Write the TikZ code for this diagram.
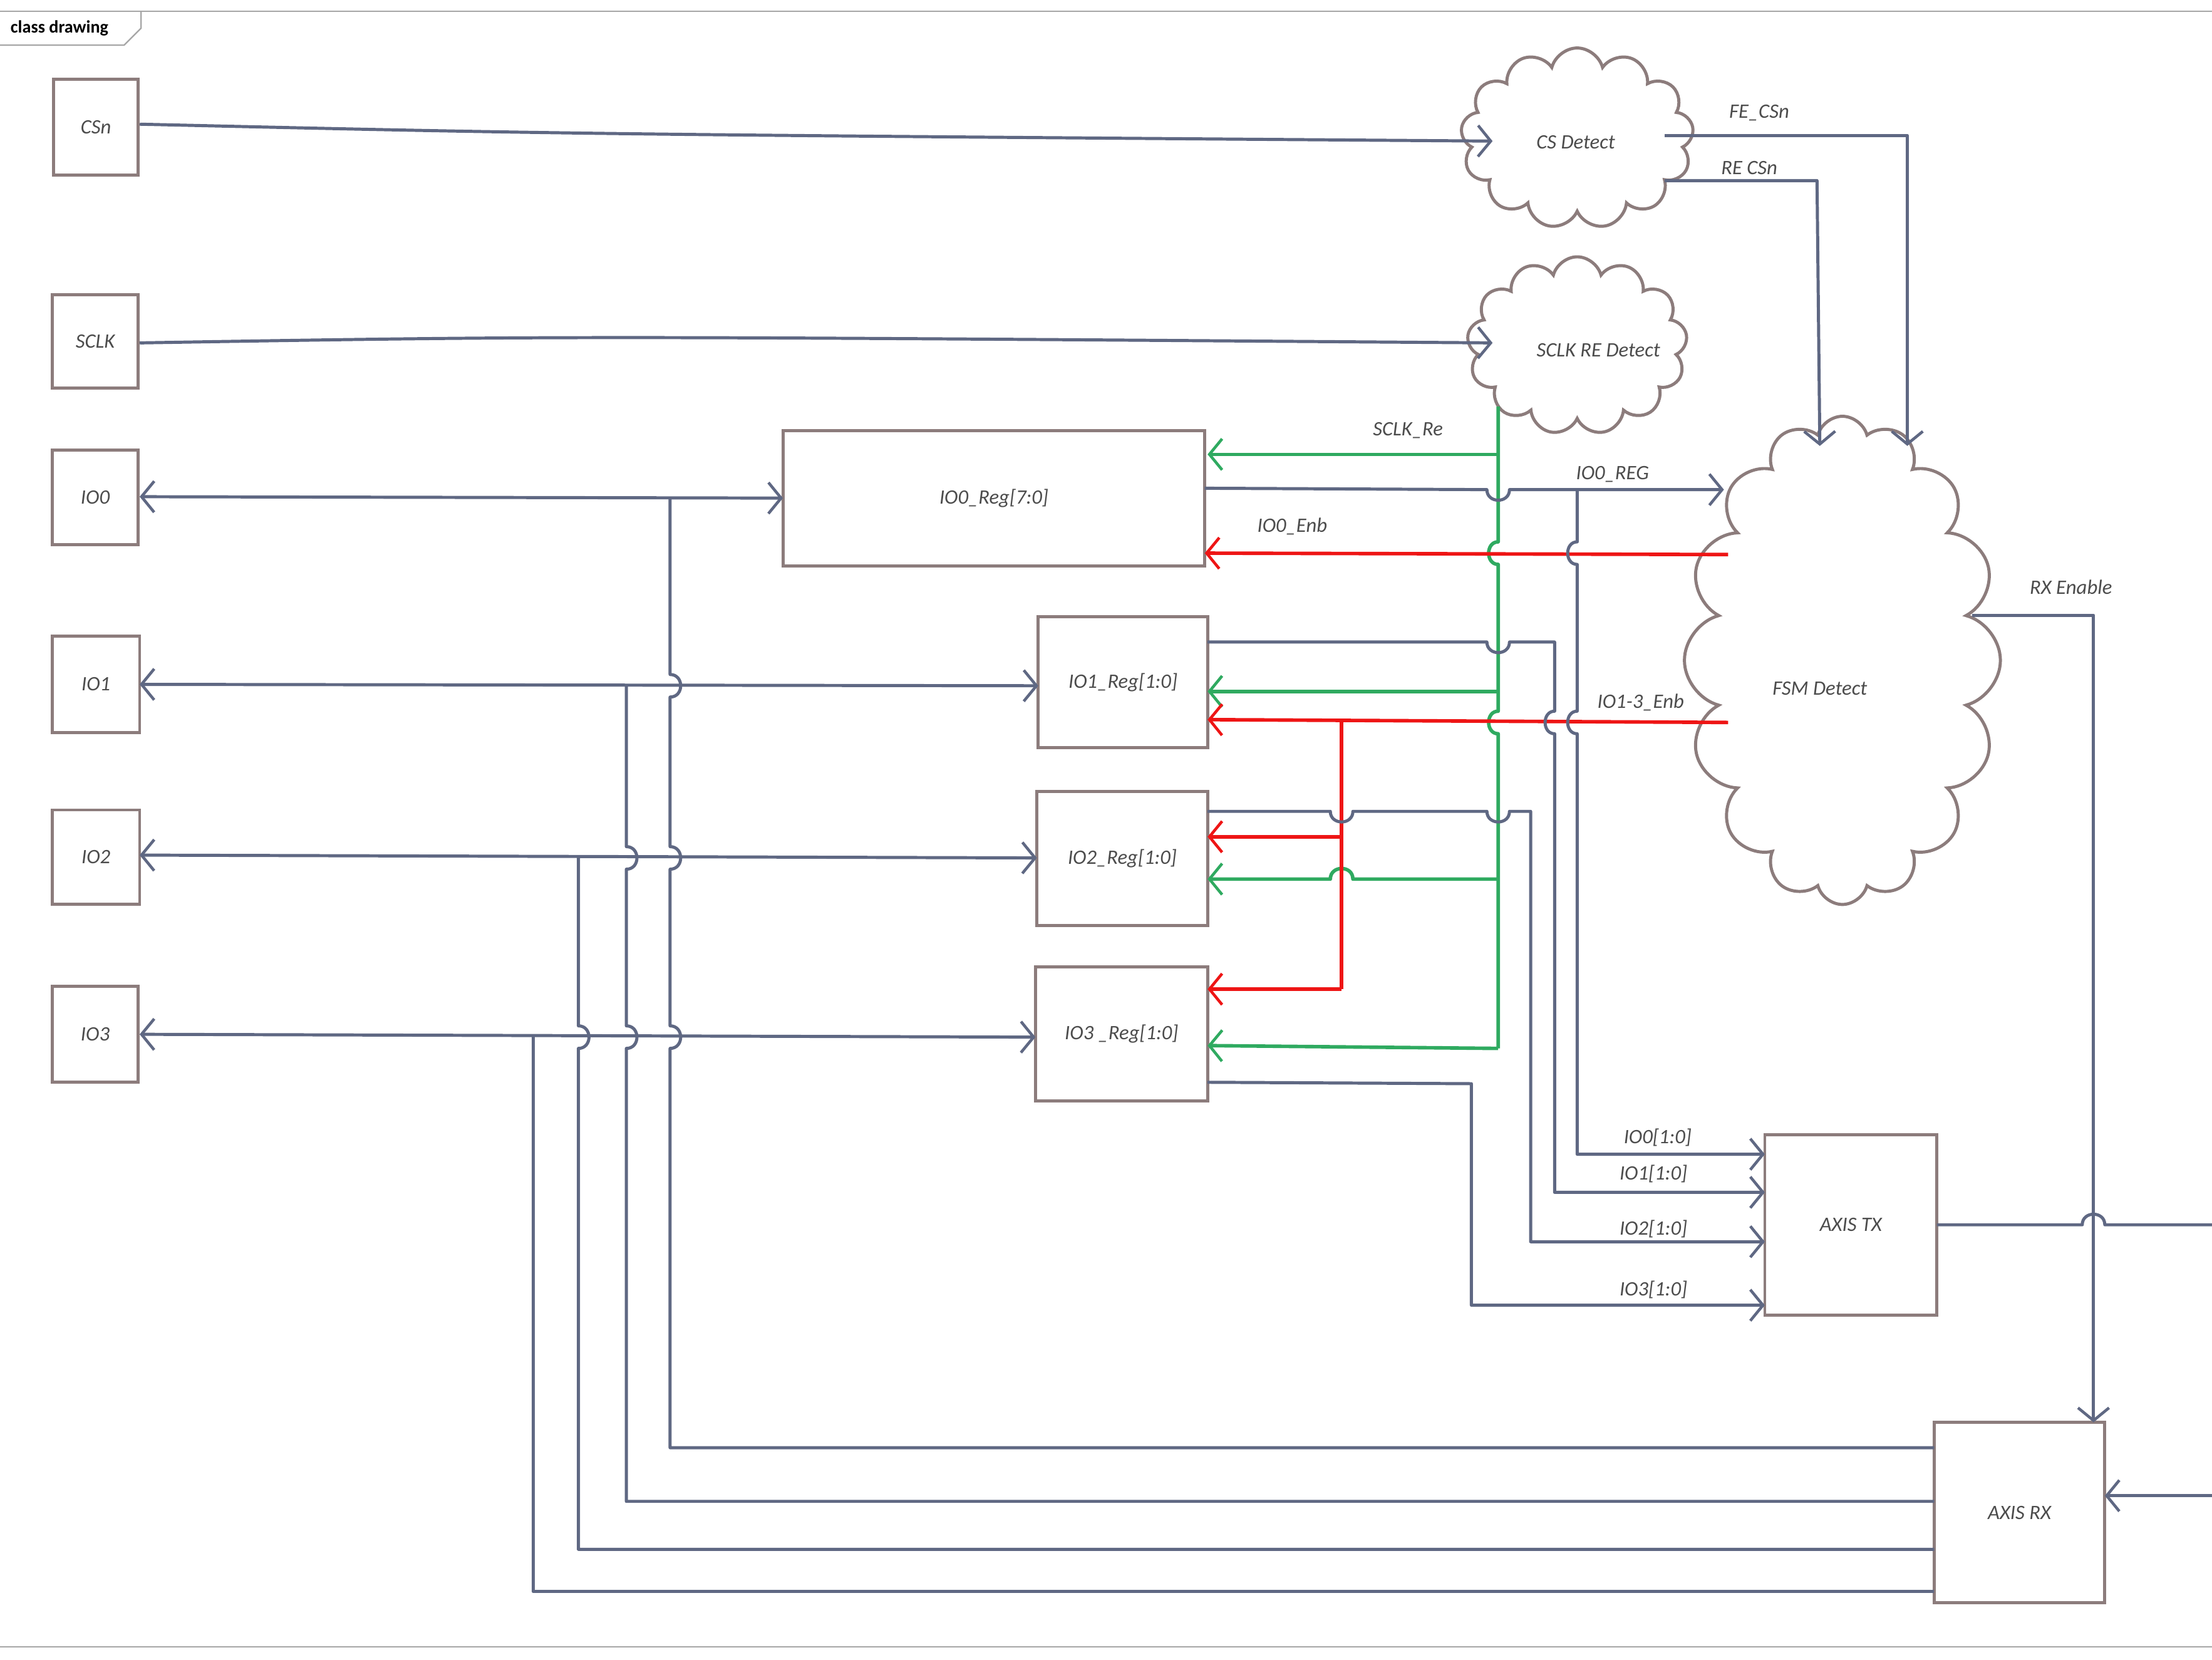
\documentclass[tikz,border=0pt]{standalone}
\usepackage{fontspec}
\setmainfont{Carlito}
\usetikzlibrary{shapes.symbols,arrows.meta}
\definecolor{ln}{HTML}{5F6883}
\definecolor{bx}{HTML}{8C7C7C}
\definecolor{gr}{HTML}{2FAA60}
\definecolor{rd}{HTML}{EE1515}
\newcommand\hh[3]{-- (#1-8,#2) .. controls (#1-8,#2+#3) and (#1+8,#2+#3) .. (#1+8,#2)}
\newcommand\hl[3]{-- (#1+8,#2) .. controls (#1+8,#2+#3) and (#1-8,#2+#3) .. (#1-8,#2)}
\newcommand\vd[3]{-- (#1,#2-8) .. controls (#1+#3,#2-8) and (#1+#3,#2+8) .. (#1,#2+8)}
\newcommand\vu[3]{-- (#1,#2+8) .. controls (#1+#3,#2+8) and (#1+#3,#2-8) .. (#1,#2-8)}
\begin{document}
\begin{tikzpicture}[x=1pt,y=-1pt,
  box/.style={draw=bx,line width=2.2pt,inner sep=0},
  cl/.style={draw=bx,line width=2.2pt,cloud,cloud puffs=13,cloud ignores aspect,inner sep=0},
  w/.style={draw=ln,line width=2.2pt,line join=round},
  g/.style={draw=gr,line width=2.5pt,line join=round},
  r/.style={draw=rd,line width=2.5pt,line join=round},
  ar/.style={-{Straight Barb[length=9pt,width=22pt,line width=2pt]}},
  ba/.style={{Straight Barb[length=9pt,width=22pt,line width=2pt]}-{Straight Barb[length=9pt,width=22pt,line width=2pt]}},
  t/.style={font=\fontsize{14.5}{17}\selectfont\itshape,text=black!70}]
\useasboundingbox (0,0) rectangle (1568,1176);
\draw[gray!70,line width=1pt] (0,8) -- (1568,8) (0,1167) -- (1568,1167);
\draw[gray!70,line width=1pt] (0,32) -- (88,32) -- (100,20) -- (100,8);
\node[font=\fontsize{12.5}{14}\selectfont\bfseries,anchor=west] (title) at (4,20) {class drawing};
% boxes
\node[box,minimum width=60,minimum height=68,t] (CSn) at (68,90) {CSn};
\node[box,minimum width=61,minimum height=66,t] (SCLK) at (67.5,242) {SCLK};
\node[box,minimum width=61,minimum height=67,t] (IO0) at (67.5,352.5) {IO0};
\node[box,minimum width=62,minimum height=68,t] (IO1) at (68,485) {IO1};
\node[box,minimum width=62,minimum height=67,t] (IO2) at (68,607.5) {IO2};
\node[box,minimum width=61,minimum height=68,t] (IO3) at (67.5,733) {IO3};
\node[box,minimum width=299,minimum height=96,t] (R0) at (704.5,353) {IO0\_Reg[7:0]};
\node[box,minimum width=120,minimum height=93,t] (R1) at (796,483.5) {IO1\_Reg[1:0]};
\node[box,minimum width=121,minimum height=95,t] (R2) at (795.5,608.5) {IO2\_Reg[1:0]};
\node[box,minimum width=122,minimum height=95,t] (R3) at (795,732.5) {IO3 \_Reg[1:0]};
\node[box,minimum width=122,minimum height=128,t] (TX) at (1312,868) {AXIS TX};
\node[box,minimum width=121,minimum height=128,t] (RX) at (1431.5,1072) {AXIS RX};
\node[cl,minimum width=165,minimum height=128] (CSD) at (1118,98) {};
\node[t] (CSDt) at (1117,101) {CS Detect};
\node[cl,minimum width=156,minimum height=126] (SRD) at (1118,245) {};
\node[t] (SRDt) at (1133,248) {SCLK RE Detect};
\node[cl,cloud puffs=16,minimum width=224,minimum height=346] (FSM) at (1306,468) {};
\node[t] (FSMt) at (1290,488) {FSM Detect};
% labels
\node[t] (l1) at (1247,80) {FE\_CSn};
\node[t] (l2) at (1240,119) {RE CSn};
\node[t] (l3) at (998,305) {SCLK\_Re};
\node[t] (l4) at (1143,336) {IO0\_REG};
\node[t] (l5) at (916,373) {IO0\_Enb};
\node[t] (l6) at (1163,498) {IO1-3\_Enb};
\node[t] (l7) at (1468,416) {RX Enable};
\node[t] (l8) at (1175,806) {IO0[1:0]};
\node[t] (l9) at (1172,832) {IO1[1:0]};
\node[t] (l10) at (1172,871) {IO2[1:0]};
\node[t] (l11) at (1172,914) {IO3[1:0]};
% inputs
\draw[w,ar] (CSn.east|-0,88) .. controls (400,95) .. (1058,100);
\draw[w,ar] (SCLK.east|-0,243) .. controls (400,238) .. (1058,243);
\draw[w,ar] (1180,96) -- (1352,96) -- (1352,316);
\draw[w,ar] (1180,128) -- (1288,128) -- (1290,316);
% IO bidirectional
\draw[w,ba] (99,352) -- (555,353);
\draw[w,ba] (99,485) -- (736,486);
\draw[w,ba] (99,606) -- (735,608);
\draw[w,ba] (99,733) -- (734,735);
% AXIS RX return lines
\draw[w] (1371,1026) -- (475,1026) -- (475,745) \vu{475}{735}{10} \vu{475}{608}{10} \vu{475}{486}{10} -- (475,353);
\draw[w] (1371,1064) -- (444,1064) \vu{444}{735}{10} \vu{444}{608}{10} -- (444,486);
\draw[w] (1371,1098) -- (410,1098) \vu{410}{735}{10} -- (410,606);
\draw[w] (1371,1128) -- (378,1128) -- (378,733);
% green
\draw[g] (1062,288) \vd{1062}{392}{-9} \vd{1062}{512}{-9} -- (1062,743);
\draw[g,ar] (1062,322) -- (856,322);
\draw[g,ar] (1062,490) -- (856,490);
\draw[g,ar] (1062,623) \hl{951}{623}{-10} -- (856,623);
\draw[g,ar] (1062,743) -- (856,741);
% red
\draw[r,ar] (1225,393) -- (854,392);
\draw[r,ar] (1225,512) -- (856,510);
\draw[r] (951,510) -- (951,701);
\draw[r,ar] (951,593) -- (856,593);
\draw[r,ar] (951,701) -- (856,701);
% outputs of registers
\draw[w,ar] (854,346) \hh{1062}{347}{10} -- (1222,347);
\draw[w,ar] (1118,347) \vd{1118}{392}{-9} \vd{1118}{512}{-9} -- (1118,818) -- (1251,818);
\draw[w,ar] (856,455) \hh{1062}{455}{10} -- (1102,455) \vd{1102}{512}{-9} -- (1102,845) -- (1251,845);
\draw[w,ar] (856,575) \hh{951}{575}{10} \hh{1062}{575}{10} -- (1085,575) -- (1085,880) -- (1251,880);
\draw[w,ar] (856,767) -- (1043,768) -- (1043,925) -- (1251,925);
\draw[w] (1373,868) \hh{1484}{868}{-10} -- (1568,868);
\draw[w,ar] (1398,436) -- (1484,436) -- (1484,1008);
\draw[w,ar] (1568,1060) -- (1492,1060);
\end{tikzpicture}
\end{document}
